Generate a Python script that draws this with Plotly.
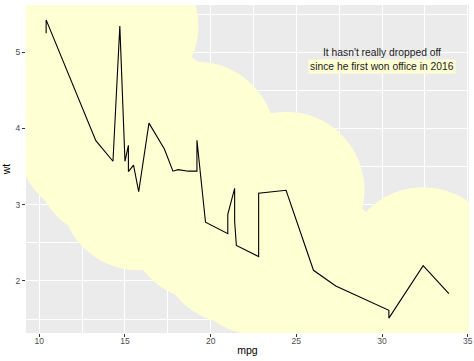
import plotly.graph_objects as go

# mtcars (mpg, wt), in dataset order
cars = ["Mazda RX4", "Mazda RX4 Wag", "Datsun 710", "Hornet 4 Drive", "Hornet Sportabout",
        "Valiant", "Duster 360", "Merc 240D", "Merc 230", "Merc 280", "Merc 280C",
        "Merc 450SE", "Merc 450SL", "Merc 450SLC", "Cadillac Fleetwood",
        "Lincoln Continental", "Chrysler Imperial", "Fiat 128", "Honda Civic",
        "Toyota Corolla", "Toyota Corona", "Dodge Challenger", "AMC Javelin",
        "Camaro Z28", "Pontiac Firebird", "Fiat X1-9", "Porsche 914-2", "Lotus Europa",
        "Ford Pantera L", "Ferrari Dino", "Maserati Bora", "Volvo 142E"]
mpg = [21.0, 21.0, 22.8, 21.4, 18.7, 18.1, 14.3, 24.4, 22.8, 19.2, 17.8, 16.4, 17.3, 15.2,
       10.4, 10.4, 14.7, 32.4, 30.4, 33.9, 21.5, 15.5, 15.2, 13.3, 19.2, 27.3, 26.0, 30.4,
       15.8, 19.7, 15.0, 21.4]
wt = [2.620, 2.875, 2.320, 3.215, 3.440, 3.460, 3.570, 3.190, 3.150, 3.440, 3.440, 4.070,
      3.730, 3.780, 5.250, 5.424, 5.345, 2.200, 1.615, 1.835, 2.465, 3.520, 3.435, 3.840,
      3.845, 1.935, 2.140, 1.513, 3.170, 2.770, 3.570, 2.780]

x_ticks = [10, 15, 20, 25, 30, 35]
y_ticks = [2, 3, 4, 5]
note_line1 = "It hasn't really dropped off"
note_line2 = "since he first won office in 2016"

# geom_line sorts by x (stable)
order = sorted(range(len(mpg)), key=lambda i: mpg[i])
xs = [mpg[i] for i in order]
ys = [wt[i] for i in order]

YELLOW = "#FFFFD4"

fig = go.Figure()
fig.add_trace(go.Scatter(x=mpg, y=wt, mode="markers",
                         marker=dict(size=157, color=YELLOW, line=dict(width=0)),
                         hoverinfo="skip", showlegend=False))
fig.add_trace(go.Scatter(x=xs, y=ys, mode="lines",
                         line=dict(color="black", width=1.1),
                         showlegend=False))

xmin, xmax = min(mpg), max(mpg)
ymin, ymax = min(wt), max(wt)
xpad = (xmax - xmin) * 0.05
ypad = (ymax - ymin) * 0.05

fig.add_annotation(x=30.0, y=5.0, text=note_line1, showarrow=False,
                   xanchor="center", yanchor="middle",
                   font=dict(family="Liberation Sans", size=10.3, color="#1a1a1a"))
fig.add_annotation(x=30.0, y=4.81, text=note_line2, showarrow=False,
                   xanchor="center", yanchor="middle", bgcolor=YELLOW, borderpad=1,
                   font=dict(family="Liberation Sans", size=10.3, color="#1a1a1a"))

axis_common = dict(
    showgrid=True, gridcolor="white", gridwidth=1.1,
    ticks="outside", ticklen=3, tickcolor="#333333", tickwidth=1,
    tickfont=dict(family="Liberation Sans", size=8.5, color="#4D4D4D"),
    zeroline=False, showline=False, automargin=False,
)

fig.update_layout(
    width=474, height=361,
    margin=dict(l=26, r=5, t=5, b=28),
    paper_bgcolor="white", plot_bgcolor="#EBEBEB",
    xaxis=dict(range=[xmin - xpad, xmax + xpad], tickvals=x_ticks, ticklabelstandoff=-3,
               title=dict(text="mpg", standoff=1,
                          font=dict(family="Liberation Sans", size=10.5, color="black")),
               **axis_common),
    yaxis=dict(range=[ymin - ypad, ymax + ypad], tickvals=y_ticks,
               title=dict(text="wt", standoff=4,
                          font=dict(family="Liberation Sans", size=10.5, color="black")),
               **axis_common),
)
fig.update_xaxes(minor=dict(tickvals=[12.5, 17.5, 22.5, 27.5, 32.5], ticks="",
                            showgrid=True, gridcolor="white", gridwidth=0.5))
fig.update_yaxes(minor=dict(tickvals=[1.5, 2.5, 3.5, 4.5, 5.5], ticks="",
                            showgrid=True, gridcolor="white", gridwidth=0.5))

fig.write_html("out.html", config={"displayModeBar": False},
               post_script="document.body.style.margin='0';document.body.style.padding='0';")
